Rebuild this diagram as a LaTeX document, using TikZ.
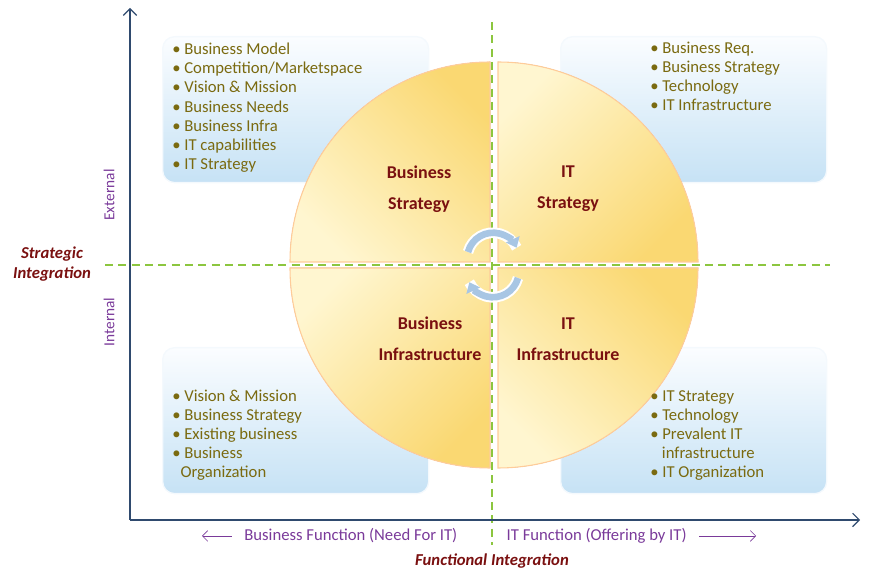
\documentclass[tikz,border=0pt]{standalone}
\usepackage{fontspec}
\setmainfont{Carlito}
\usetikzlibrary{arrows.meta}
\definecolor{axis}{HTML}{2F4A6E}
\definecolor{olive}{HTML}{7A6A10}
\definecolor{dred}{HTML}{7A1010}
\definecolor{purp}{HTML}{7A3A9A}
\definecolor{dgreen}{HTML}{8CC63F}
\definecolor{boxtop}{HTML}{FBFDFF}
\definecolor{boxbot}{HTML}{C6E2F5}
\definecolor{pieA}{HTML}{FFF6D0}
\definecolor{pieB}{HTML}{FAD872}
\definecolor{arr}{HTML}{A8C6E4}
\tikzset{
  infobox/.style={rounded corners=9pt, draw=white!80!boxbot, top color=boxtop, bottom color=boxbot, line width=1pt},
  pie/.style={draw=white!60!orange, line width=0.8pt},
  lst/.style={font=\fontsize{12.5}{14.3}\selectfont, text=olive, align=left, anchor=north west, inner sep=0pt},
  ttl/.style={font=\fontsize{13.5}{16}\selectfont\bfseries, text=dred, align=center},
  guide/.style={dgreen, dashed, dash pattern=on 6pt off 4pt, line width=1.2pt},
  ax/.style={draw=axis, line width=0.8pt, -{Straight Barb[length=5pt]}},
  cyc/.style={arr, line width=5pt, -{Triangle[length=7pt,width=11pt]}}
}
\newcommand{\bl}{\textbullet\ }
\begin{document}
\begin{tikzpicture}[x=0.75pt,y=-0.75pt]
\useasboundingbox (0,0) rectangle (869,580);
% boxes
\node[infobox, minimum width=199.5pt, minimum height=109.5pt, anchor=north west] (btl) at (162,36) {};
\node[infobox, minimum width=199.5pt, minimum height=109.5pt, anchor=north west] (btr) at (560,36) {};
\node[infobox, minimum width=199.5pt, minimum height=109.5pt, anchor=north west] (bbl) at (162,347) {};
\node[infobox, minimum width=199.5pt, minimum height=109.5pt, anchor=north west] (bbr) at (560,347) {};
% pies
\fill[left color=pieB, right color=pieA, shading angle=-45] (490,262) -- (290,262) arc[start angle=180,end angle=270,radius=200] -- cycle;
\draw[pie] (490,262) -- (290,262) arc[start angle=180,end angle=270,radius=200] -- cycle;
\fill[left color=pieA, right color=pieB, shading angle=45] (498,262) -- (498,62) arc[start angle=270,end angle=360,radius=200] -- cycle;
\draw[pie] (498,262) -- (498,62) arc[start angle=270,end angle=360,radius=200] -- cycle;
\fill[left color=pieA, right color=pieB, shading angle=45] (490,268) -- (490,468) arc[start angle=90,end angle=180,radius=200] -- cycle;
\draw[pie] (490,268) -- (490,468) arc[start angle=90,end angle=180,radius=200] -- cycle;
\fill[left color=pieB, right color=pieA, shading angle=-45] (498,268) -- (698,268) arc[start angle=0,end angle=90,radius=200] -- cycle;
\draw[pie] (498,268) -- (698,268) arc[start angle=0,end angle=90,radius=200] -- cycle;
% lists
\node[lst] (ltl) at (172,43) {\bl Business Model\\\bl Competition/Marketspace\\\bl Vision \& Mission\\\bl Business Needs\\\bl Business Infra\\\bl IT capabilities\\\bl IT Strategy};
\node[lst] (ltr) at (650,42) {\bl Business Req.\\\bl Business Strategy\\\bl Technology\\\bl IT Infrastructure};
\node[lst] (lbl) at (172,390) {\bl Vision \& Mission\\\bl Business Strategy\\\bl Existing business\\\bl Business\\\hspace*{0.5em}Organization};
\node[lst] (lbr) at (650,390) {\bl IT Strategy\\\bl Technology\\\bl Prevalent IT\\\hspace*{0.7em}infrastructure\\\bl IT Organization};
% titles
\node[ttl] (t1) at (419,189) {Business\\[7pt]Strategy};
\node[ttl] (t2) at (568,189) {IT\\[7pt]Strategy};
\node[ttl] (t3) at (430,339) {Business\\[7pt]Infrastructure};
\node[ttl] (t4) at (568,339) {IT\\[7pt]Infrastructure};
% guides
\draw[guide] (492,22) -- (492,545);
\draw[guide] (105,265) -- (830,265);
% axes
\coordinate (o) at (130,520);
\coordinate (ytop) at (130,8);
\coordinate (xend) at (860,520);
\draw[ax] (o) -- (ytop);
\draw[ax] (o) -- (xend);
% cycle arrows
\draw[white, line width=8pt] (468,252) arc[start angle=195,end angle=335,radius=26];
\draw[cyc] (468,252) arc[start angle=195,end angle=335,radius=26];
\draw[white, line width=8pt] (518,278) arc[start angle=15,end angle=155,radius=26];
\draw[cyc] (518,278) arc[start angle=15,end angle=155,radius=26];
% labels
\node[rotate=90, text=purp, font=\fontsize{11.5}{13}\selectfont] (ext) at (109,195) {External};
\node[rotate=90, text=purp, font=\fontsize{11.5}{13}\selectfont] (int) at (109,322) {Internal};
\node[text=dred, font=\fontsize{12.5}{15}\selectfont\bfseries\itshape, align=center, inner sep=0pt] (si) at (52,264) {Strategic\\Integration};
\node[text=dred, font=\fontsize{12.5}{15}\selectfont\bfseries\itshape] (fi) at (492,561) {Functional Integration};
\node[text=purp, font=\fontsize{12.5}{13}\selectfont, anchor=east] (bf) at (462,536) {Business Function (Need For IT)};
\node[text=purp, font=\fontsize{12.5}{13}\selectfont, anchor=west] (itf) at (502,536) {IT Function (Offering by IT)};
\coordinate (la) at (202,536);
\coordinate (ra) at (756,536);
\draw[purp, -{Straight Barb[length=4pt]}] (bf.west) ++(-6pt,0) -- (la);
\draw[purp, -{Straight Barb[length=4pt]}] (itf.east) ++(6pt,0) -- (ra);
\end{tikzpicture}
\end{document}
